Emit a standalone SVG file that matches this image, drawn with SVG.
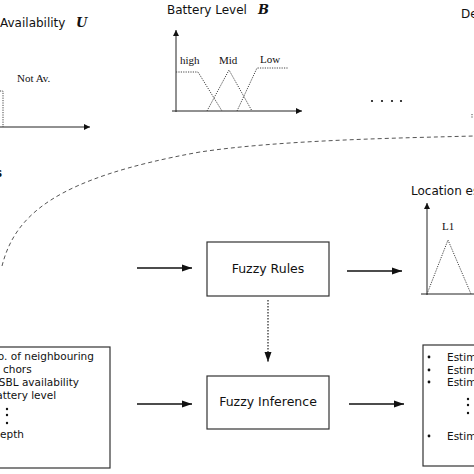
<svg xmlns="http://www.w3.org/2000/svg" width="474" height="474" viewBox="0 0 474 474">
<style>
text{font-family:"DejaVu Sans",Verdana,sans-serif;fill:#111}
.ser{font-family:"Liberation Serif","Times New Roman",serif;font-size:11px}
.math{font-family:"DejaVu Serif","Liberation Serif",serif;font-style:italic;font-weight:bold;font-size:13px}
.box{fill:#fff;stroke:#333;stroke-width:1.2}
.line{stroke:#111;stroke-width:1.3;fill:none}
.axis{stroke:#222;stroke-width:1;fill:none}
.dot{stroke:#444;stroke-width:1;fill:none;stroke-dasharray:1.2 1.2}
.lst{font-size:10.5px}
.bt{font-size:12.5px}
</style>
<defs>
<marker id="ah" markerWidth="10" markerHeight="8" refX="10" refY="4" orient="auto" markerUnits="userSpaceOnUse">
<path d="M0,0.5 L10,4 L0,7.5 Z" fill="#111"/>
</marker>
<marker id="sa" markerWidth="6" markerHeight="6" refX="6" refY="3" orient="auto" markerUnits="userSpaceOnUse">
<path d="M0,0 L6,3 L0,6 Z" fill="#111"/>
</marker>
</defs>

<g id="chart-availability">
<text x="0" y="27" font-size="12">Availability</text>
<text class="math" x="76" y="27">U</text>
<text class="ser" x="17" y="82">Not Av.</text>
<path class="dot" d="M0,91 L3,91 L3,127"/>
<line class="axis" x1="0" y1="127" x2="90" y2="127" marker-end="url(#sa)"/>
</g>

<g id="chart-battery">
<text x="167" y="14" font-size="12">Battery Level</text>
<text class="math" x="258" y="14">B</text>
<line class="axis" x1="176" y1="112" x2="176" y2="30" marker-end="url(#sa)"/>
<line class="axis" x1="172" y1="111" x2="302" y2="111" marker-end="url(#sa)"/>
<text class="ser" x="180" y="64">high</text>
<text class="ser" x="219" y="64">Mid</text>
<text class="ser" x="260" y="63">Low</text>
<path class="dot" d="M176,72 L198,72 L222,111"/>
<path class="dot" d="M207,111 L229,70 L252,111"/>
<path class="dot" d="M237,111 L257,68 L288,68"/>
</g>

<g id="chart-depth">
<text x="461" y="18" font-size="12">Depth</text>
<line class="dot" x1="472" y1="114" x2="472" y2="118"/>
</g>

<g id="ellipsis" fill="#111">
<circle cx="372" cy="101" r="1.1"/>
<circle cx="382" cy="101" r="1.1"/>
<circle cx="392" cy="101" r="1.1"/>
<circle cx="401" cy="101" r="1.1"/>
</g>

<g id="inputs-label">
<text x="-5" y="177" font-size="12" font-weight="bold">s</text>
</g>

<g id="fuzzy-rules">
<rect class="box" x="207" y="242" width="122" height="54"/>
<text class="bt" x="268" y="273" text-anchor="middle">Fuzzy Rules</text>
</g>

<g id="fuzzy-inference">
<rect class="box" x="207" y="376" width="122" height="53"/>
<text class="bt" x="268" y="406" text-anchor="middle">Fuzzy Inference</text>
</g>

<g id="chart-location">
<text x="411" y="195" font-size="12">Location estimate</text>
<line class="axis" x1="427" y1="295" x2="427" y2="203" marker-end="url(#sa)"/>
<line class="axis" x1="421" y1="294" x2="474" y2="294"/>
<text class="ser" x="442" y="230">L1</text>
<path class="dot" d="M427,294 L448,240 L471,294"/>
</g>

<g id="input-list">
<rect class="box" x="-10" y="347" width="120" height="121"/>
<text class="lst" x="-10" y="360">No. of neighbouring</text>
<text class="lst" x="3" y="373">chors</text>
<text class="lst" x="-7" y="386">LSBL availability</text>
<text class="lst" x="-11" y="399">Battery level</text>
<circle cx="7" cy="409" r="1.2" fill="#111"/>
<circle cx="7" cy="415" r="1.2" fill="#111"/>
<circle cx="7" cy="423" r="1.2" fill="#111"/>
<text class="lst" x="-8" y="438">Depth</text>
</g>

<g id="output-list">
<rect class="box" x="423" y="345" width="60" height="121"/>
<circle cx="429" cy="357" r="1.4" fill="#111"/>
<circle cx="429" cy="370" r="1.4" fill="#111"/>
<circle cx="429" cy="382" r="1.4" fill="#111"/>
<circle cx="429" cy="436" r="1.4" fill="#111"/>
<text class="lst" x="447" y="361">Estimate</text>
<text class="lst" x="447" y="374">Estimate</text>
<text class="lst" x="447" y="386">Estimate</text>
<circle cx="468" cy="399" r="1.2" fill="#111"/>
<circle cx="468" cy="405" r="1.2" fill="#111"/>
<circle cx="468" cy="413" r="1.2" fill="#111"/>
<text class="lst" x="447" y="440">Estimate</text>
</g>

<g id="connectors">
<path d="M2,266 C15,215 55,178 200,152 C280,140 400,138 474,136" fill="none" stroke="#555" stroke-width="1" stroke-dasharray="4 3"/>
<line class="line" x1="137" y1="268" x2="192" y2="268" marker-end="url(#ah)"/>
<line class="line" x1="347" y1="271" x2="402" y2="271" marker-end="url(#ah)"/>
<line x1="268" y1="300" x2="268" y2="362" stroke="#222" stroke-width="1.2" stroke-dasharray="1.5 1.5" marker-end="url(#ah)"/>
<line class="line" x1="137" y1="404" x2="192" y2="404" marker-end="url(#ah)"/>
<line class="line" x1="349" y1="404" x2="404" y2="404" marker-end="url(#ah)"/>
</g>
</svg>
